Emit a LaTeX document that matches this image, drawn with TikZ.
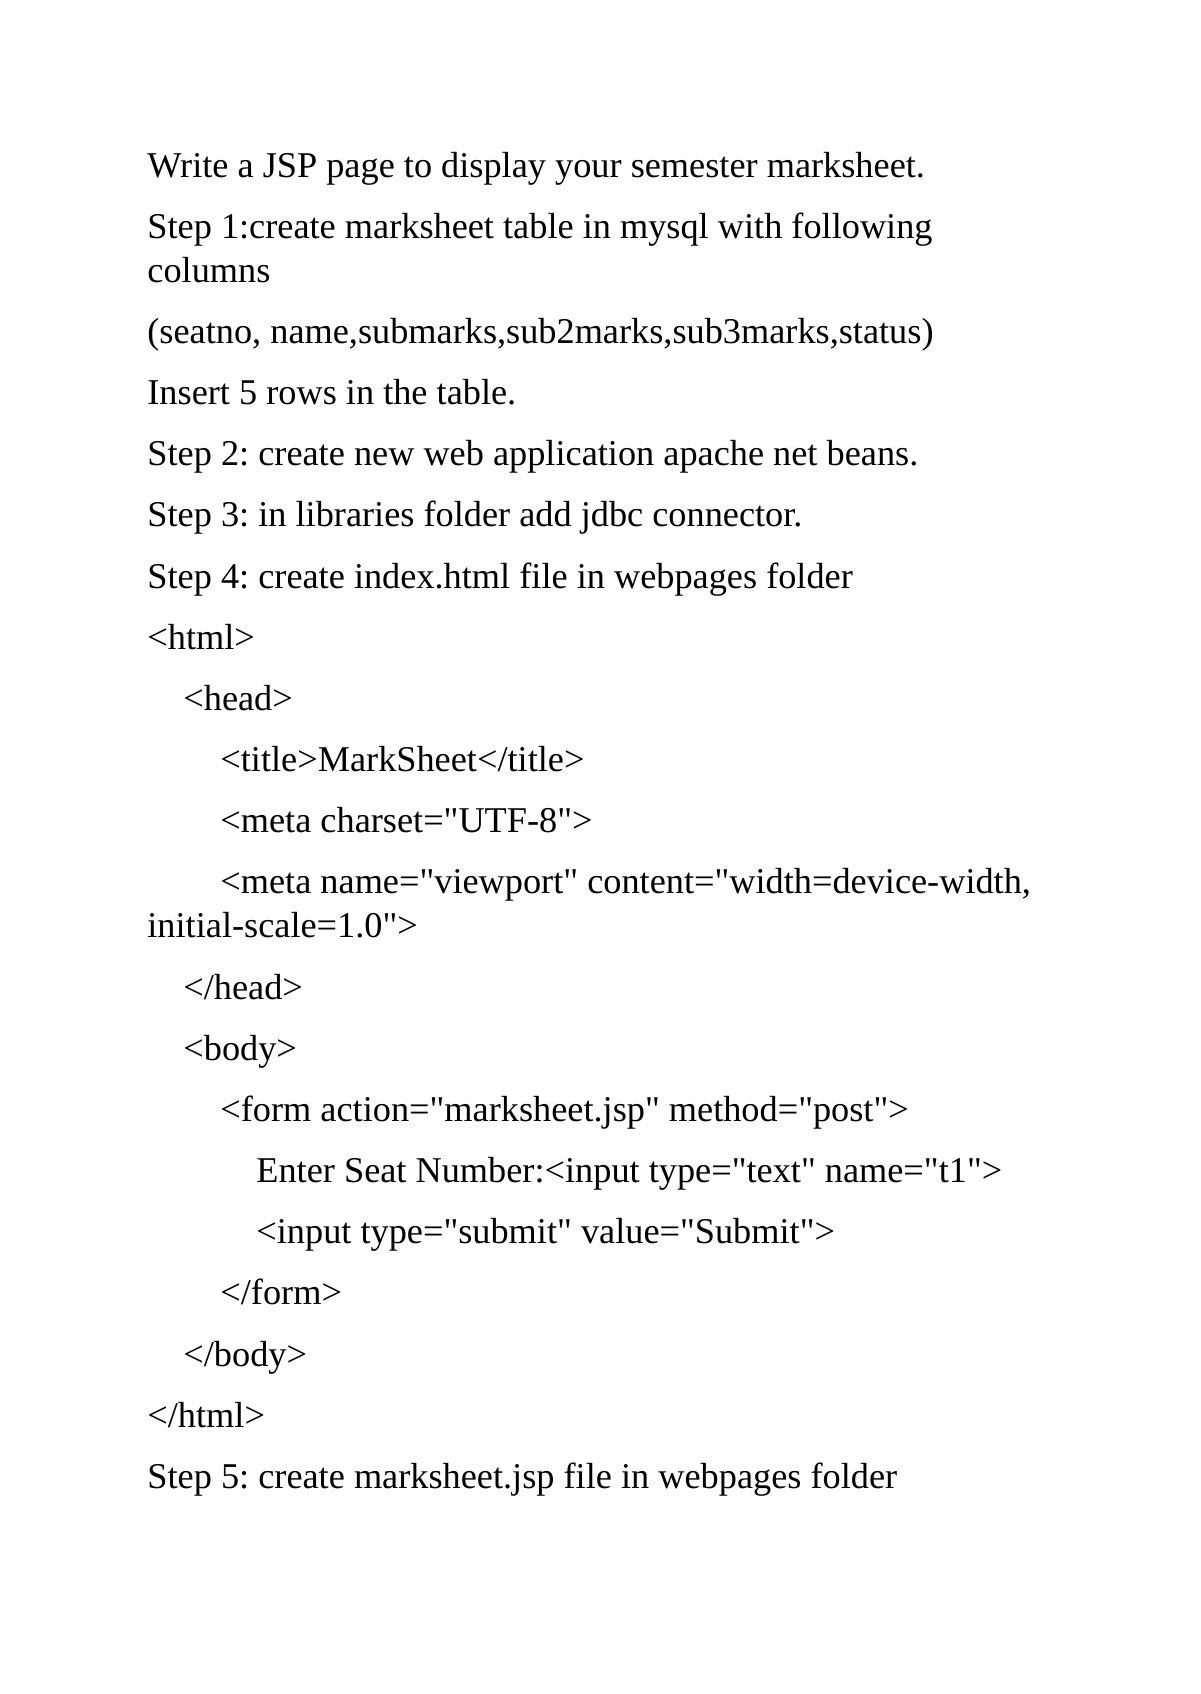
\documentclass[tikz,border=0pt]{standalone}
\usepackage{fontspec}
\setmainfont{Liberation Serif}[Ligatures=TeXOff]
\begin{document}
\frenchspacing
\begin{tikzpicture}[x=0.496pt, y=-0.496pt, txt/.style={anchor=base west, inner sep=0pt, font=\fontsize{18}{22}\selectfont}]
\fill[white] (0,0) rectangle (1200,1694);
\useasboundingbox (0,0) rectangle (1200,1694);
\node[txt] (task) at (147, 177) {Write a JSP page to display your semester marksheet.};
\node[txt] (s1) at (147, 238) {Step 1:create marksheet table in mysql with following};
\node[txt] (s1b) at (147, 282) {columns};
\node[txt] (cols) at (147, 343) {(seatno, name,submarks,sub2marks,sub3marks,status)};
\node[txt] (ins) at (147, 404.5) {Insert 5 rows in the table.};
\node[txt] (s2) at (147, 465.6) {Step 2: create new web application apache net beans.};
\node[txt] (s3) at (147, 526.8) {Step 3: in libraries folder add jdbc connector.};
\node[txt] (s4) at (147, 588) {Step 4: create index.html file in webpages folder};
\node[txt] (html) at (147, 649) {<html>};
\node[txt] (head) at (183, 710) {<head>};
\node[txt] (title) at (220, 771.5) {<title>MarkSheet</title>};
\node[txt] (meta1) at (220, 832.7) {<meta charset="UTF-8">};
\node[txt] (meta2) at (220, 893.8) {<meta name="viewport" content="width=device-width,};
\node[txt] (meta2b) at (147, 937.8) {initial-scale=1.0">};
\node[txt] (headc) at (183, 999) {</head>};
\node[txt] (body) at (183, 1060) {<body>};
\node[txt] (form) at (220, 1121.3) {<form action="marksheet.jsp" method="post">};
\node[txt] (seat) at (256, 1182.5) {Enter Seat Number:<input type="text" name="t1">};
\node[txt] (sub) at (256, 1243.6) {<input type="submit" value="Submit">};
\node[txt] (formc) at (220, 1304.8) {</form>};
\node[txt] (bodyc) at (183, 1366) {</body>};
\node[txt] (htmlc) at (147, 1427) {</html>};
\node[txt] (s5) at (147, 1488) {Step 5: create marksheet.jsp file in webpages folder};
\end{tikzpicture}
\end{document}
